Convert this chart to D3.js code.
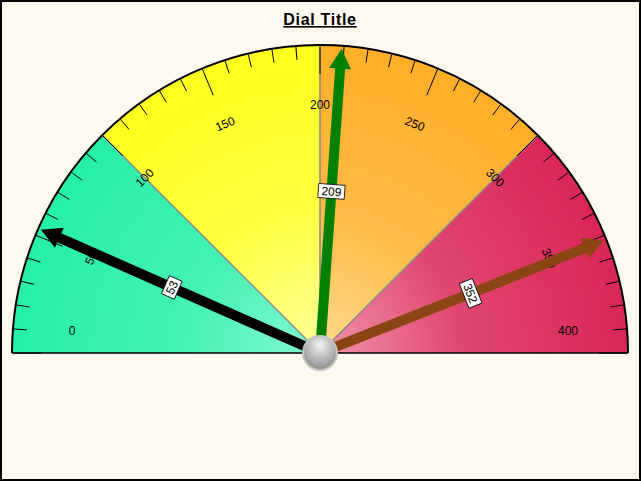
<!DOCTYPE html>
<html>
<head>
<meta charset="utf-8">
<script src="https://cdn.jsdelivr.net/npm/d3@7"></script>
<style>
  body { margin: 0; background: #fff; }
  text { font-family: "Liberation Sans", Arial, sans-serif; }
</style>
</head>
<body>
<div id="chart"></div>
<script>
var title = "Dial Title";
var scaleMin = 0, scaleMax = 400;
var bandStarts = [0, 100, 200, 300];
var bandEnds = [100, 200, 300, 400];
var bandInner = ["#86f8d2", "#ffff9c", "#ffda8e", "#f096ab"];
var bandOuter = ["#26f0a6", "#ffff1c", "#ffae26", "#da2656"];
var tickLabels = [0, 50, 100, 150, 200, 250, 300, 350, 400];
var needleValues = [53, 209, 352];
var needleColors = ["#000000", "#008000", "#8b4513"];

var width = 641, height = 481;
var cx = 320, cy = 353, R = 308;

var svg = d3.select("#chart")
            .append("svg")
              .attr("width", width)
              .attr("height", height);

svg.append("rect")
   .attr("x", 1).attr("y", 1)
   .attr("width", width - 2).attr("height", height - 2)
   .attr("fill", "#fdf9ef")
   .attr("stroke", "#000")
   .attr("stroke-width", 2);

// value -> angle (radians, 0 = straight up, clockwise)
var angle = d3.scaleLinear()
              .domain([scaleMin, scaleMax])
              .range([-Math.PI / 2, Math.PI / 2]);

function pt(v, r) {
  var a = angle(v);
  return [cx + r * Math.sin(a), cy - r * Math.cos(a)];
}
function deg(v) { return angle(v) * 180 / Math.PI; }

var defs = svg.append("defs");
bandStarts.forEach(function(s, i) {
  var g = defs.append("radialGradient")
              .attr("id", "band" + i)
              .attr("gradientUnits", "userSpaceOnUse")
              .attr("cx", 0).attr("cy", 0).attr("r", R);
  g.append("stop").attr("offset", "0%").attr("stop-color", bandInner[i]);
  g.append("stop").attr("offset", "45%").attr("stop-color", d3.interpolateRgb(bandInner[i], bandOuter[i])(0.7));
  g.append("stop").attr("offset", "100%").attr("stop-color", bandOuter[i]);
});
var hubGrad = defs.append("radialGradient")
                  .attr("id", "hub")
                  .attr("cx", "50%").attr("cy", "35%").attr("r", "65%")
                  .attr("fx", "50%").attr("fy", "25%");
hubGrad.append("stop").attr("offset", "0%").attr("stop-color", "#f4f4f4");
hubGrad.append("stop").attr("offset", "100%").attr("stop-color", "#8c8c8c");

var dial = svg.append("g").attr("transform", "translate(" + cx + "," + cy + ")");

var arc = d3.arc().innerRadius(0).outerRadius(R);
dial.selectAll(".band")
    .data(bandStarts)
    .enter()
    .append("path")
      .attr("class", "band")
      .attr("d", (d, i) => arc({ startAngle: angle(d), endAngle: angle(bandEnds[i]) }))
      .attr("fill", (d, i) => "url(#band" + i + ")");

// band separators
svg.selectAll(".sep")
   .data(bandStarts.slice(1))
   .enter()
   .append("line")
     .attr("class", "sep")
     .attr("x1", cx).attr("y1", cy)
     .attr("x2", d => pt(d, R)[0])
     .attr("y2", d => pt(d, R)[1])
     .attr("stroke", "#8a8a8a")
     .attr("stroke-width", 1.5);

// ticks
var ticks = angle.ticks(40);
svg.selectAll(".tick")
   .data(ticks)
   .enter()
   .append("line")
     .attr("class", "tick")
     .attr("x1", d => pt(d, R)[0])
     .attr("y1", d => pt(d, R)[1])
     .attr("x2", d => pt(d, d % 50 === 0 ? R - 29 : R - 14)[0])
     .attr("y2", d => pt(d, d % 50 === 0 ? R - 29 : R - 14)[1])
     .attr("stroke", "#000")
     .attr("stroke-width", 1);

svg.selectAll(".tlabel")
   .data(tickLabels)
   .enter()
   .append("text")
     .attr("class", "tlabel")
     .attr("transform", function(d) {
       var end = (d === scaleMin || d === scaleMax);
       var p = pt(d, 248);
       if (end) return "translate(" + p[0] + "," + (p[1] - 22) + ")";
       return "translate(" + p[0] + "," + p[1] + ") rotate(" + deg(d) + ")";
     })
     .attr("text-anchor", "middle")
     .attr("dy", "0.35em")
     .attr("font-size", 12)
     .attr("fill", "#000")
     .text(d => d);

// outline
dial.append("path")
    .attr("d", d3.arc().innerRadius(R).outerRadius(R)({ startAngle: angle(scaleMin), endAngle: angle(scaleMax) }))
    .attr("fill", "none")
    .attr("stroke", "#000")
    .attr("stroke-width", 2);
svg.append("line")
   .attr("x1", pt(scaleMin, R)[0]).attr("y1", cy)
   .attr("x2", pt(scaleMax, R)[0]).attr("y2", cy)
   .attr("stroke", "#000")
   .attr("stroke-width", 1.5);

// needles
var needleLen = R - 3, headLen = 20, shaft = 5, head = 11;
var needles = svg.selectAll(".needle")
                 .data(needleValues)
                 .enter()
                 .append("g")
                   .attr("class", "needle")
                   .attr("transform", d => "translate(" + cx + "," + cy + ") rotate(" + deg(d) + ")");
needles.append("path")
       .attr("d", "M" + (-shaft) + ",0 L" + (-shaft) + "," + (-(needleLen - headLen)) +
                  " L" + (-head) + "," + (-(needleLen - headLen)) + " L0," + (-needleLen) +
                  " L" + head + "," + (-(needleLen - headLen)) + " L" + shaft + "," + (-(needleLen - headLen)) +
                  " L" + shaft + ",0 Z")
       .attr("fill", (d, i) => needleColors[i]);

var nl = needles.append("g")
                .attr("transform", "translate(0,-162)");
nl.append("rect")
  .attr("x", d => -String(d).length * 3.4 - 3)
  .attr("y", -7)
  .attr("width", d => String(d).length * 6.8 + 6)
  .attr("height", 14)
  .attr("fill", "#fff")
  .attr("stroke", "#000")
  .attr("stroke-width", 0.8);
nl.append("text")
  .attr("text-anchor", "middle")
  .attr("dy", "0.36em")
  .attr("font-size", 12)
  .attr("fill", "#000")
  .text(d => d);

// hub
svg.append("circle")
   .attr("cx", cx).attr("cy", cy).attr("r", 17)
   .attr("fill", "url(#hub)")
   .attr("stroke", "#c4c4c4")
   .attr("stroke-width", 2);

svg.append("text")
   .attr("x", cx).attr("y", 25)
   .attr("text-anchor", "middle")
   .attr("font-size", 16)
   .attr("font-weight", "bold")
   .attr("text-decoration", "underline")
   .attr("fill", "#000")
   .style("letter-spacing", "0.7px")
   .text(title);
</script>
</body>
</html>
